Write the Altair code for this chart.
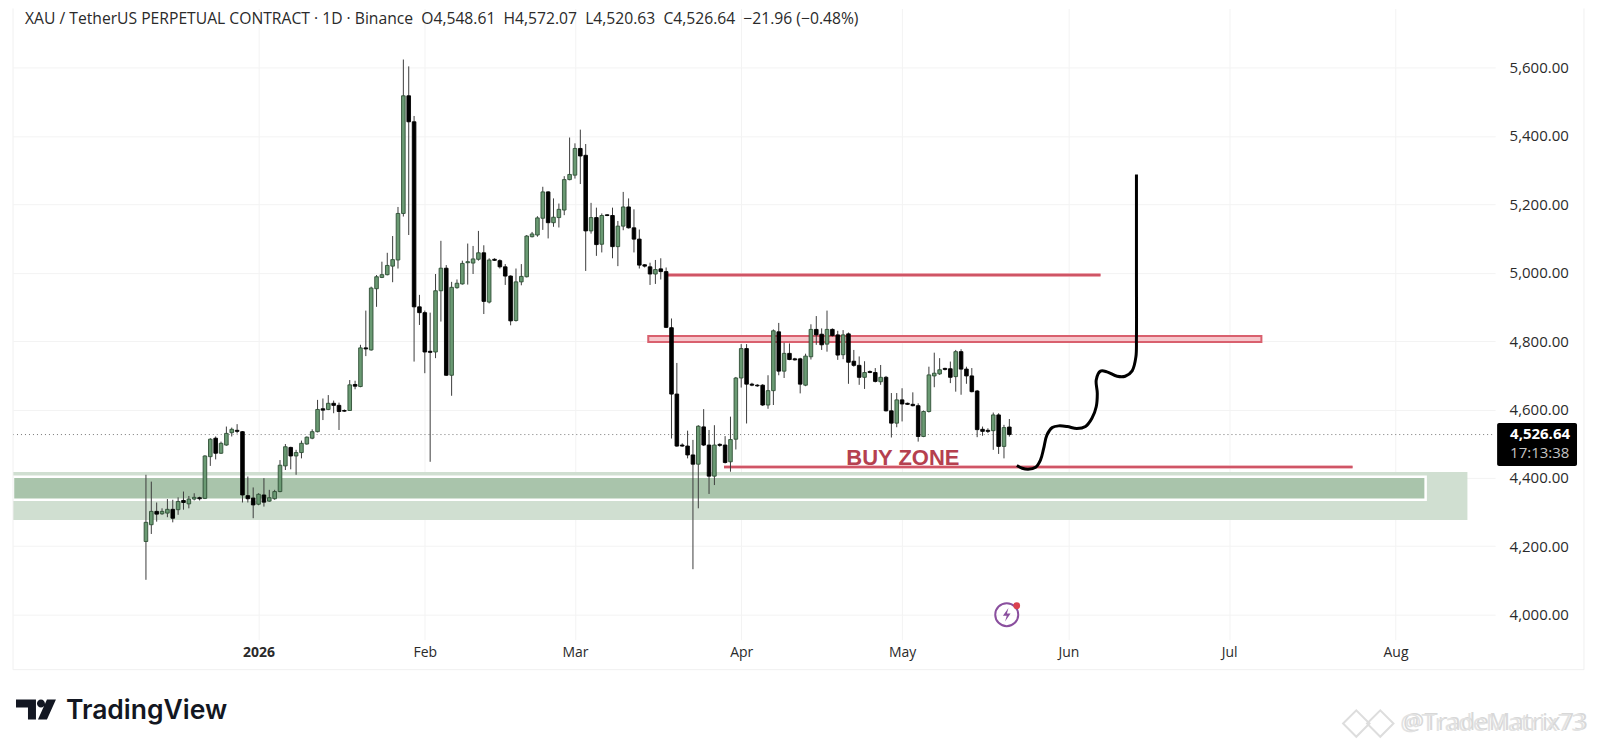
import altair as alt
import pandas as pd

START = "2025-12-11"
opens = [4214,4263,4302,4295,4297,4308,4307,4334,4324,4338,
4342,4340,4462,4516,4472,4496,4532,4539,4535,4348,
4341,4323,4350,4332,4339,4360,4435,4489,4464,4474,
4499,4516,4535,4602,4600,4618,4612,4597,4597,4673,
4667,4780,4774,4953,4986,4994,5019,5037,5173,5517,
5441,4900,4883,4770,4768,4947,5013,4700,4956,4967,
5029,5028,5039,5058,4914,5039,5035,5017,4990,4860,
4973,4988,5105,5110,5159,5236,5146,5161,5183,5272,
5285,5363,5343,5122,5161,5083,5169,5167,5076,5136,
5192,5131,5098,5023,5017,4996,5011,5003,4839,4645,
4496,4493,4467,4440,4549,4496,4405,4498,4496,4447,
4513,4692,4778,4674,4671,4671,4613,4655,4827,4712,
4764,4748,4748,4671,4754,4834,4820,4791,4834,4818,
4760,4821,4741,4729,4694,4711,4708,4681,4694,4596,
4560,4628,4618,4615,4611,4521,4594,4698,4704,4720,
4719,4696,4769,4718,4698,4654,4542,4539,4538,4584,
4492,4548.61]
highs = [4409,4389,4328,4311,4338,4336,4343,4360,4347,4355,
4345,4466,4516,4521,4506,4550,4547,4557,4537,4404,
4372,4355,4399,4365,4365,4452,4499,4491,4482,4509,
4521,4542,4628,4632,4642,4626,4620,4600,4686,4684,
4789,4889,4959,4993,5032,5058,5107,5192,5623,5603,
5458,4935,4889,4883,4996,5093,5022,4973,4980,5035,
5085,5078,5122,5080,5042,5042,5039,5025,4992,5012,
5025,5110,5119,5165,5251,5238,5217,5202,5282,5395,
5378,5418,5376,5204,5190,5173,5171,5190,5151,5236,
5217,5185,5126,5025,5029,5037,5042,5015,4866,4736,
4501,4538,4511,4554,4601,4540,4554,4501,4522,4579,
4695,4791,4791,4678,4674,4674,4700,4834,4853,4795,
4793,4751,4751,4763,4849,4873,4837,4889,4837,4830,
4832,4825,4774,4755,4741,4714,4721,4730,4698,4648,
4648,4662,4620,4650,4618,4597,4725,4766,4750,4722,
4740,4774,4776,4725,4721,4657,4550,4545,4591,4589,
4555,4572.07]
lows = [4102,4236,4272,4292,4285,4270,4292,4307,4311,4334,
4334,4338,4435,4454,4470,4494,4521,4530,4328,4328,
4282,4320,4316,4330,4336,4358,4423,4425,4409,4457,
4497,4513,4533,4569,4598,4589,4540,4593,4596,4659,
4665,4756,4772,4900,4984,4992,4972,5012,5164,5110,
4740,4847,4706,4447,4750,4857,4698,4640,4953,4965,
4965,4996,5035,4879,4910,5034,5012,4964,4846,4857,
4963,4986,5103,5105,5125,5100,5134,5132,5168,5270,
5275,5259,5005,5114,5049,5059,5165,5042,5019,5124,
5129,5059,5012,5015,4964,4967,4980,4838,4515,4491,
4491,4457,4133,4311,4493,4353,4379,4491,4442,4418,
4483,4664,4559,4668,4666,4610,4602,4613,4700,4692,
4744,4743,4647,4668,4746,4789,4774,4769,4813,4745,
4747,4675,4725,4672,4660,4706,4679,4672,4594,4518,
4548,4565,4613,4609,4506,4519,4591,4665,4701,4714,
4677,4652,4643,4675,4650,4519,4523,4531,4482,4470,
4457,4520.63]
closes = [4270,4302,4294,4302,4308,4282,4331,4328,4338,4343,
4339,4464,4513,4472,4501,4530,4542,4536,4350,4339,
4321,4352,4329,4342,4360,4437,4491,4464,4474,4501,
4519,4535,4600,4598,4618,4612,4594,4595,4672,4668,
4780,4777,4955,4988,4994,5021,5038,5173,5517,5441,
4900,4883,4768,4767,4947,5013,4700,4957,4969,5027,
5032,5040,5058,4916,5037,5036,5017,4990,4859,4973,
4989,5107,5113,5160,5236,5146,5162,5185,5272,5287,
5363,5341,5122,5161,5082,5167,5167,5076,5136,5192,
5131,5098,5022,5019,4996,5009,5003,4840,4645,4493,
4493,4467,4440,4551,4496,4405,4496,4495,4445,4512,
4692,4778,4674,4671,4669,4613,4655,4830,4712,4764,
4746,4745,4674,4756,4834,4818,4789,4834,4816,4759,
4818,4738,4729,4694,4708,4708,4682,4694,4596,4560,
4628,4616,4615,4611,4521,4594,4701,4706,4716,4717,
4694,4769,4718,4698,4652,4541,4536,4536,4584,4492,
4547,4526.64]

curve_days = [51.4,52.4,53.5,54.9,55.8,56.4,57.0,58.0,59.2,60.8,62.6,64.2,65.4,66.2,66.4,66.2,67.0,68.2,70.1,71.6,72.9,73.6,73.7,73.7,73.7]
curve_prices = [4436,4428,4425,4431,4452,4486,4525,4547,4552,4550,4544,4550,4574,4608,4647,4686,4712,4710,4697,4697,4713,4754,4812,5000,5287]
price_ticks = [4000,4200,4400,4600,4800,5000,5200,5400,5600]
month_ticks = ["2026-01-01","2026-02-01","2026-03-01","2026-04-01","2026-05-01","2026-06-01","2026-07-01","2026-08-01"]
LAST = 4526.64

NB = "\u00a0"
HEADER = f"XAU / TetherUS PERPETUAL CONTRACT · 1D · Binance{NB}{NB}O4,548.61{NB}{NB}H4,572.07{NB}{NB}L4,520.63{NB}{NB}C4,526.64{NB}{NB}−21.96 (−0.48%)"

FONT = "Open Sans"
TXT = "#2a2a2a"

n = len(opens)
cdf = pd.DataFrame({"d": pd.date_range(START, periods=n, freq="D"), "o": opens, "h": highs, "l": lows, "c": closes})
cdf["top"] = cdf[["o", "c"]].max(axis=1)
cdf["bot"] = cdf[["o", "c"]].min(axis=1)
cdf["dir"] = ["up" if c >= o else "down" for o, c in zip(opens, closes)]

apr1 = pd.Timestamp("2026-04-01")
cur = pd.DataFrame({"d": [apr1 + pd.to_timedelta(x, "D") for x in curve_days], "p": curve_prices, "i": list(range(len(curve_days)))})

WIDTH, HEIGHT = 1484, 632
xscale = alt.Scale(domain=["2025-11-16T05:00:00", "2026-08-19T14:00:00"], nice=False, padding=0)
yscale = alt.Scale(domain=[3927, 5772.3], nice=False, zero=False, padding=0)
xaxis = alt.Axis(values=month_ticks, title=None, grid=True, gridColor="#f3f3f3", domain=False, ticks=False,
                 labelExpr="month(datum.value)==0 ? timeFormat(datum.value,'%Y') : timeFormat(datum.value,'%b')",
                 labelFontWeight={"condition": {"test": "month(datum.value)==0", "value": "bold"}, "value": "normal"},
                 labelFont=FONT, labelFontSize=14, labelColor=TXT, labelPadding=6, labelFlush=False, labelOverlap=False)
yaxis = alt.Axis(values=price_ticks, title=None, orient="right", grid=True, gridColor="#f3f3f3", domain=False, ticks=False,
                 format=",.2f", labelFont=FONT, labelFontSize=15, labelColor=TXT, labelPadding=14, labelOverlap=False)

def X(f="d"):
    return alt.X(f"{f}:T", scale=xscale, axis=xaxis)
def Y(f="p"):
    return alt.Y(f"{f}:Q", scale=yscale, axis=yaxis)

def band(x0, x1, p0, p1, **kw):
    df = pd.DataFrame({"d": [pd.Timestamp(x0)], "d2": [pd.Timestamp(x1)], "p": [p0], "p2": [p1]})
    return alt.Chart(df).mark_rect(**kw).encode(x=X(), x2="d2:T", y=Y(), y2="p2:Q")

def hline(x0, x1, price, **kw):
    df = pd.DataFrame({"d": [pd.Timestamp(x0)], "d2": [pd.Timestamp(x1)], "p": [price]})
    return alt.Chart(df).mark_rule(**kw).encode(x=X(), x2="d2:T", y=Y())

one = pd.DataFrame({"a": [0]})
def deco_text(txt, ix, iy, **kw):
    return alt.Chart(one).mark_text(text=txt, **kw).encode(x=alt.value(ix - 13), y=alt.value(iy - 8))
def deco_sym(ix, iy, **kw):
    return alt.Chart(one).mark_point(**kw).encode(x=alt.value(ix - 13), y=alt.value(iy - 8))
def deco_rect(x0, x1, y0, y1, **kw):
    return alt.Chart(one).mark_rect(**kw).encode(x=alt.value(x0 - 13), x2=alt.value(x1 - 13), y=alt.value(y0 - 8), y2=alt.value(y1 - 8))
def deco_rule(x0, x1, y0, y1, **kw):
    return alt.Chart(one).mark_rule(**kw).encode(x=alt.value(x0 - 13), x2=alt.value(x1 - 13), y=alt.value(y0 - 8), y2=alt.value(y1 - 8))

LEFT = "2025-11-16T05:00:00"
layers = [
    band(LEFT, "2026-08-14T10:00:00", 4417, 4277, color="#d0dfd1"),
    band(LEFT, "2026-08-06T15:00:00", 4403, 4336, color="#a9c4ab", stroke="white", strokeWidth=2.5),
    hline(LEFT, "2026-08-19T14:00:00", LAST, color="#777777", strokeDash=[1, 3], strokeWidth=1),
    hline("2026-03-18", "2026-06-07", 4993, color="#eba6ae", strokeWidth=4),
    hline("2026-03-18", "2026-06-07", 4993, color="#cf5566", strokeWidth=2),
    band("2026-03-14T16:00:00", "2026-07-07", 4815, 4797, color="#f6c6cb", stroke="#d9606e", strokeWidth=2),
    hline("2026-03-28T19:00:00", "2026-07-24", 4432, color="#eba6ae", strokeWidth=3.5),
    hline("2026-03-28T19:00:00", "2026-07-24", 4432, color="#cf5566", strokeWidth=2),
    alt.Chart(cdf).mark_rule(color="#3c3c3c", strokeWidth=1).encode(x=X(), y=Y("l"), y2="h:Q"),
    alt.Chart(cdf[cdf["dir"] == "up"]).mark_bar(size=3.6, color="#6a9a73", stroke="#2f4f36", strokeWidth=0.9).encode(x=X(), y=Y("bot"), y2="top:Q"),
    alt.Chart(cdf[cdf["dir"] == "down"]).mark_bar(size=3.6, color="#000000", stroke="#000000", strokeWidth=0.9).encode(x=X(), y=Y("bot"), y2="top:Q"),
    alt.Chart(cur).mark_line(color="#000000", strokeWidth=3, interpolate="catmull-rom").encode(x=X(), y=Y(), order="i:Q"),
    deco_text("BUY ZONE", 904, 458, font="Liberation Sans", fontWeight="bold", fontSize=22, color="#b5404f", align="center", baseline="middle"),
    deco_text(HEADER, 25, 19, font=FONT, fontSize=15.7, color=TXT, align="left", baseline="middle"),
    deco_rect(1499, 1579, 423, 466, color="#000000", cornerRadius=2),
    deco_text("4,526.64", 1512, 434, font=FONT, fontSize=15, fontWeight="bold", color="#ffffff", align="left", baseline="middle"),
    deco_text("17:13:38", 1512, 453, font=FONT, fontSize=15, color="#c4c4c4", align="left", baseline="middle"),
    deco_rule(13, 13, 8, 670, color="#f0f0f0", strokeWidth=1),
    deco_rule(13, 1586, 670, 670, color="#f0f0f0", strokeWidth=1),
    deco_rule(1586, 1586, 8, 670, color="#f0f0f0", strokeWidth=1),
    deco_sym(1008, 615, shape="circle", size=530, filled=False, color="#8a4f9e", strokeWidth=2, opacity=1),
    deco_sym(1008, 615, shape="M .2 -.8 L -.45 .12 L 0 .12 L -.2 .8 L .45 -.15 L .02 -.15 Z", size=290, filled=True, color="#8a4f9e", strokeWidth=0, opacity=1),
    deco_sym(1018, 606, shape="circle", size=45, filled=True, color="#d9414f", strokeWidth=0, opacity=1),
    deco_sym(36, 710, shape="M -1 -.5 L 0 -.5 L 0 .5 L -.4 .5 L -.4 -.1 L -1 -.1 Z M .05 -.3 a .2 .2 0 1 0 .4 0 a .2 .2 0 1 0 -.4 0 Z M 1 -.5 L .55 -.5 L .1 .5 L .55 .5 Z",
             size=1600, filled=True, color="#131722", strokeWidth=0, opacity=1),
    deco_text("TradingView", 66, 711, font="Inter", fontWeight=600, fontSize=26.5, color="#131722", align="left", baseline="middle"),
    deco_sym(1358, 724, shape="diamond", size=700, filled=False, color="#dddddd", strokeWidth=2, opacity=1),
    deco_sym(1382, 724, shape="diamond", size=700, filled=False, color="#dddddd", strokeWidth=2, opacity=1),
    deco_text("@TradeMatrix73", 1590, 723, font=FONT, fontSize=24, color="#d8d8d8", align="right", baseline="middle"),
    deco_text("@TradeMatrix73", 1587, 724, font=FONT, fontSize=24, color="#e2e2e2", align="right", baseline="middle"),
]

chart = alt.layer(*layers).properties(
    width=WIDTH, height=HEIGHT,
    autosize=alt.AutoSizeParams(type="none"),
    padding={"left": 5, "top": 0, "right": 97, "bottom": 100},
    background="#ffffff",
).configure_view(stroke=None)

chart.save("out.html", embed_options={"renderer": "svg", "actions": False})
